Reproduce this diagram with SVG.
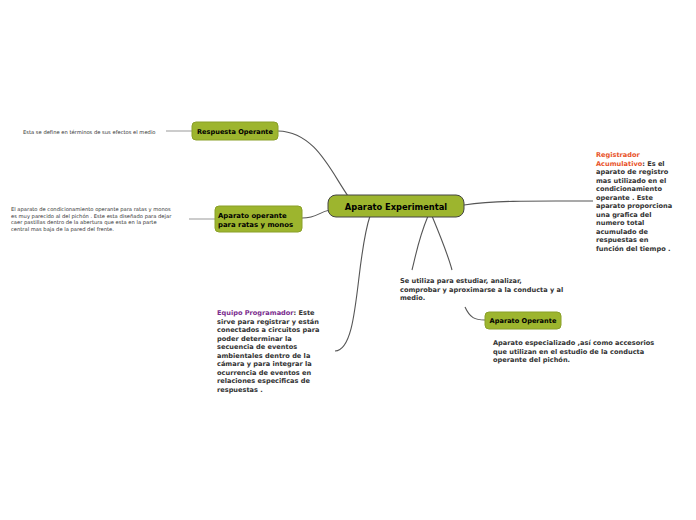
<svg xmlns="http://www.w3.org/2000/svg" width="696" height="520" viewBox="0 0 696 520">
<style>
.n{fill:#9db52e;stroke:#8aa028;stroke-width:1}
.t{font-family:"DejaVu Sans",sans-serif;font-weight:bold;fill:#000}
.d{font-family:"DejaVu Sans",sans-serif;font-weight:bold;fill:#333;font-size:6.6px}
.s{font-family:"DejaVu Sans",sans-serif;fill:#333;font-size:5.2px}
.c{fill:none;stroke:#555;stroke-width:1.1}
.l{fill:none;stroke:#999;stroke-width:1}
</style>
<rect width="696" height="520" fill="#fff"/>
<g id="connectors">
<path class="c" d="M348,196 C330,170 315,132 278,131"/>
<path class="c" d="M330,210 C318,212 318,218 302,218"/>
<path class="c" d="M370,216 C355,260 360,350 335,351"/>
<path class="c" d="M428,216 C418,240 416,255 412,270"/>
<path class="c" d="M432,216 C442,240 448,255 452,270"/>
<path class="c" d="M464,205 C500,200 540,201 593,201"/>
<path class="c" d="M465,307 C470,318 475,320 485,320"/>
<path class="l" d="M166,131 H192"/>
<path class="l" d="M189,219 H215"/>
</g>
<g id="center"><rect x="328" y="195" width="136" height="22" rx="8" class="n" style="stroke:#444"/><text x="396" y="209.5" text-anchor="middle" class="t" font-size="8.3">Aparato Experimental</text></g>
<g id="respuesta"><rect x="192" y="122" width="86" height="18" rx="4" class="n"/><text x="235" y="134" text-anchor="middle" class="t" font-size="6.6">Respuesta Operante</text></g>
<g id="resp-text"><text x="23" y="134" class="s">Esta se define en términos de sus efectos el medio</text></g>
<g id="ratas"><rect x="215" y="206" width="87" height="26" rx="4" class="n"/><text x="218" y="218" class="t" font-size="6.9">Aparato operante</text><text x="218" y="226.5" class="t" font-size="6.9">para ratas y monos</text></g>
<g id="ratas-text"><text class="s" x="11"><tspan x="11" y="211">El aparato de condicionamiento operante para ratas y monos</tspan><tspan x="11" y="217.5">es muy parecido al del pichón . Este esta diseñado para dejar</tspan><tspan x="11" y="224">caer pastillas dentro de la abertura que esta en la parte</tspan><tspan x="11" y="230.5">central mas baja de la pared del frente.</tspan></text></g>
<g id="registrador"><text class="d"><tspan x="596" y="157" fill="#e8532a">Registrador</tspan><tspan x="596" y="165.5" fill="#e8532a">Acumulativo<tspan fill="#333">: Es el</tspan></tspan><tspan x="596" y="174">aparato de registro</tspan><tspan x="596" y="182.5">mas utilizado en el</tspan><tspan x="596" y="191">condicionamiento</tspan><tspan x="596" y="199.5">operante . Este</tspan><tspan x="596" y="208">aparato proporciona</tspan><tspan x="596" y="216.5">una grafica del</tspan><tspan x="596" y="225">numero total</tspan><tspan x="596" y="233.5">acumulado de</tspan><tspan x="596" y="242">respuestas en</tspan><tspan x="596" y="250.5">función del tiempo .</tspan></text></g>
<g id="utiliza"><text class="d"><tspan x="400" y="283">Se utiliza para estudiar, analizar,</tspan><tspan x="400" y="291.5">comprobar y aproximarse a la conducta y al</tspan><tspan x="400" y="300">medio.</tspan></text></g>
<g id="operante"><rect x="485" y="312" width="76" height="17" rx="4" class="n"/><text x="523" y="323" text-anchor="middle" class="t" font-size="6.6">Aparato Operante</text></g>
<g id="operante-text"><text class="d"><tspan x="493" y="345">Aparato especializado ,así como accesorios</tspan><tspan x="493" y="353.5">que utilizan en el estudio de la conducta</tspan><tspan x="493" y="362">operante del pichón.</tspan></text></g>
<g id="equipo"><text class="d"><tspan x="217" y="315" fill="#7b2d8e">Equipo Programador<tspan fill="#333">: Este</tspan></tspan><tspan x="217" y="323.5">sirve para registrar y están</tspan><tspan x="217" y="332">conectados a circuitos para</tspan><tspan x="217" y="340.5">poder determinar la</tspan><tspan x="217" y="349">secuencia de eventos</tspan><tspan x="217" y="357.5">ambientales dentro de la</tspan><tspan x="217" y="366">cámara y para integrar la</tspan><tspan x="217" y="374.5">ocurrencia de eventos en</tspan><tspan x="217" y="383">relaciones especificas de</tspan><tspan x="217" y="391.5">respuestas .</tspan></text></g>
</svg>
